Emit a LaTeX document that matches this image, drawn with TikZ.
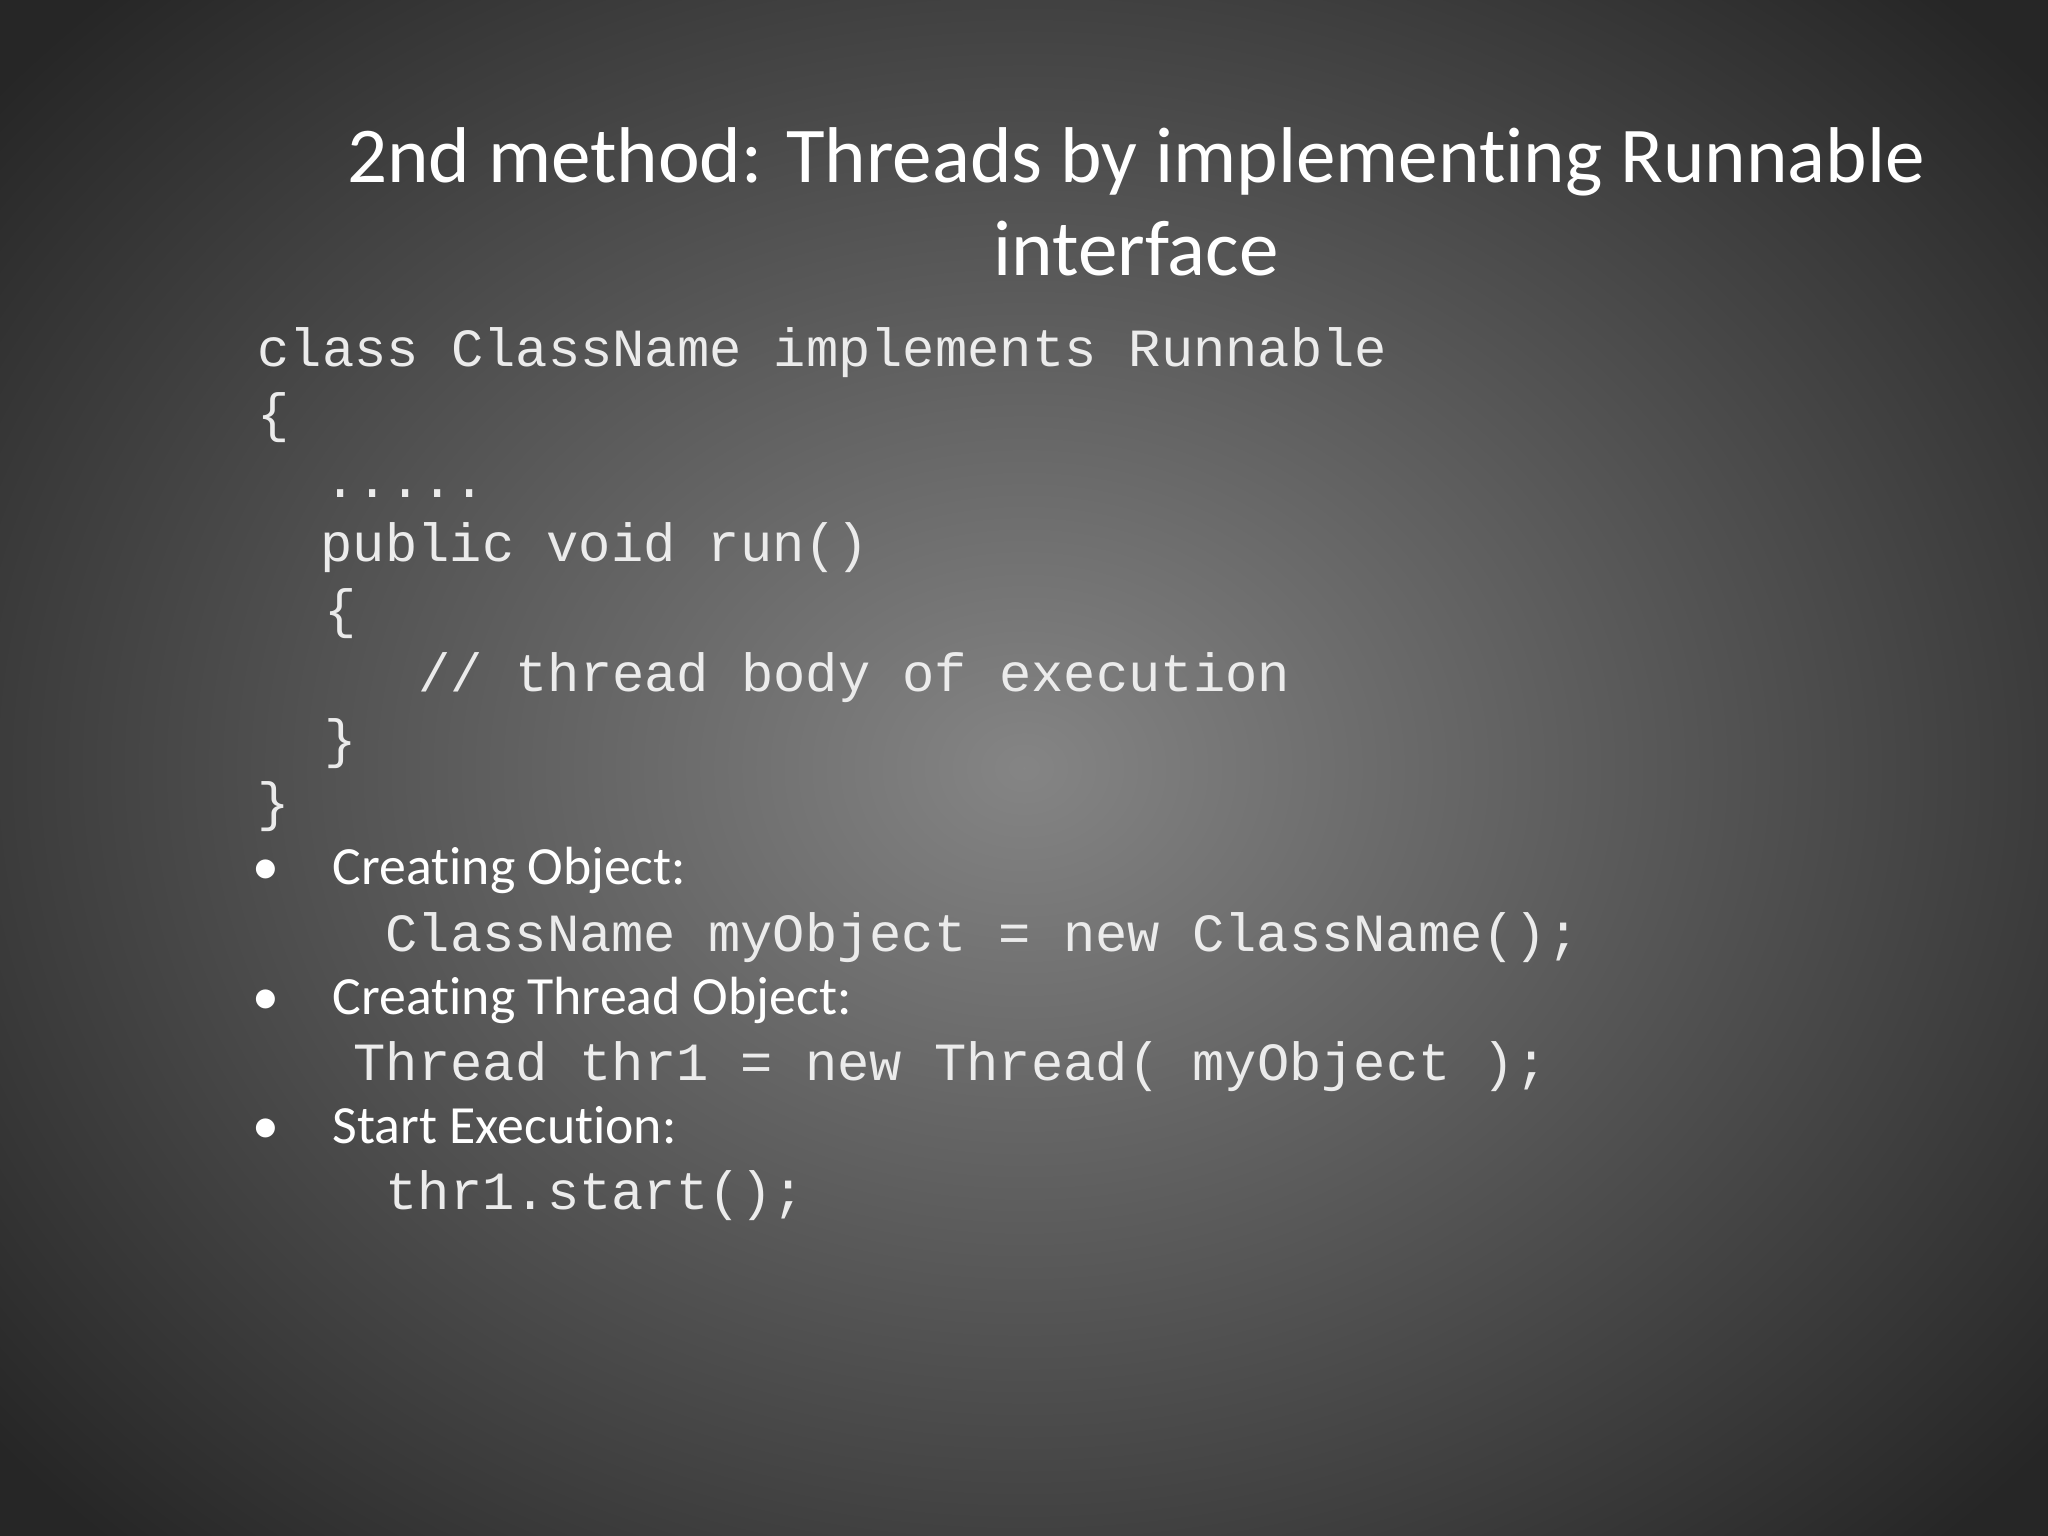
\documentclass[tikz,border=0pt]{standalone}
\usepackage{fontspec}
\setmainfont[Ligatures=NoCommon]{Carlito}
\setmonofont{Liberation Mono}
\begin{document}
\begin{tikzpicture}[
  code/.style={anchor=base west,inner sep=0pt,text=black!8,font=\ttfamily\fontsize{15.3}{18}\selectfont},
  bul/.style={anchor=base west,inner sep=0pt,text=white,font=\fontsize{15.3}{18}\selectfont},
  ttl/.style={anchor=base,inner sep=0pt,text=white,font=\fontsize{22.5}{26}\selectfont}]
\begin{scope}
\clip (0,0) rectangle (20.48,-15.36);
\shade[inner color=black!48,outer color=black!85] (-3,3) rectangle (23.48,-18.36);
\end{scope}
\useasboundingbox (0,0) rectangle (20.48,-15.36);
\node[ttl] (t1) at (11.36,-1.83) {2nd method: Threads by implementing Runnable};
\node[ttl] (t2) at (11.36,-2.76) {interface};
\node[code] (c1) at (2.57,-3.67) {class ClassName implements Runnable};
\node[code] (c2) at (2.57,-4.32) {\{};
\node[code] (c3) at (3.24,-4.97) {.....};
\node[code] (c4) at (3.20,-5.61) {public void run()};
\node[code] (c5) at (3.24,-6.27) {\{};
\node[code] (c6) at (4.18,-6.92) {// thread body of execution};
\node[code] (c7) at (3.24,-7.57) {\}};
\node[code] (c8) at (2.57,-8.21) {\}};
\node[bul] (b1d) at (2.52,-8.85) {•};
\node[bul] (b1) at (3.32,-8.85) {Creating Object:};
\node[code] (d1) at (3.85,-9.51) {ClassName myObject = new ClassName();};
\node[bul] (b2d) at (2.52,-10.14) {•};
\node[bul] (b2) at (3.32,-10.14) {Creating Thread Object:};
\node[code] (d2) at (3.53,-10.80) {Thread thr1 = new Thread( myObject );};
\node[bul] (b3d) at (2.52,-11.43) {•};
\node[bul] (b3) at (3.32,-11.43) {Start Execution:};
\node[code] (d3) at (3.85,-12.09) {thr1.start();};
\end{tikzpicture}
\end{document}
